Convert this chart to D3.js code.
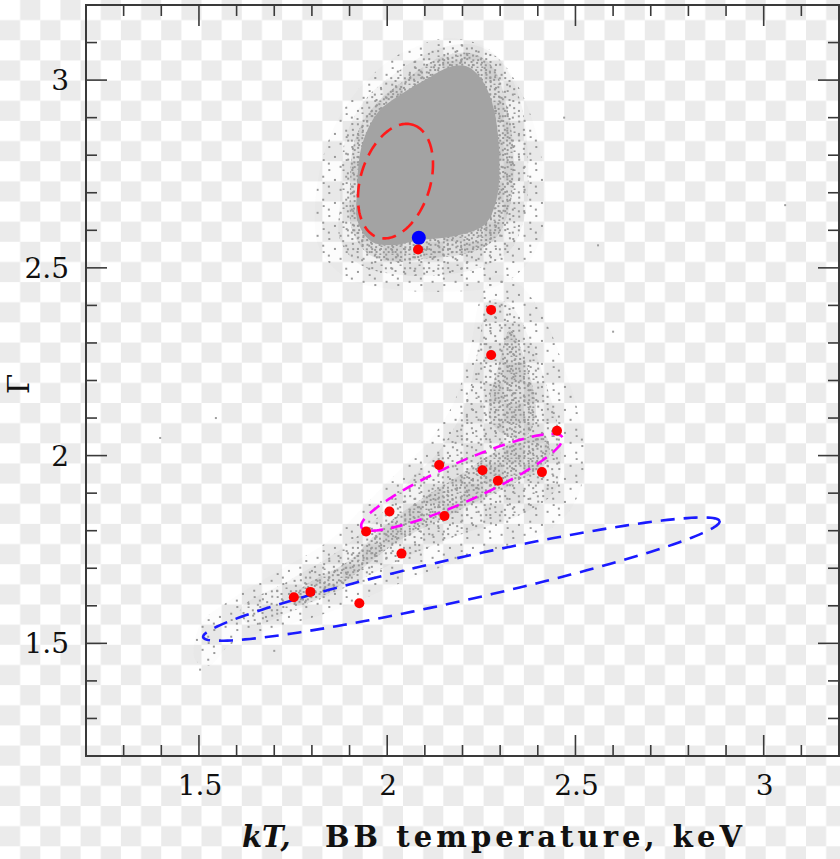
<!DOCTYPE html>
<html><head><meta charset="utf-8">
<script src="https://cdn.jsdelivr.net/npm/d3@7"></script>
<style>html,body{margin:0;padding:0;background:#fff}</style>
</head><body><svg id="c" width="840" height="859"></svg>
<script>
// ---------------- DATA ----------------
const axisDomain = [1.2, 3.2];
const majorTicks = [1.5, 2, 2.5, 3];
const majorTickLabels = ["1.5", "2", "2.5", "3"];
const minorTicks = [1.2,1.3,1.4,1.6,1.7,1.8,1.9,2.1,2.2,2.3,2.4,2.6,2.7,2.8,2.9,3.1,3.2];

// red observation points [kT, Gamma]
const redKT    = [2.082, 2.276, 2.276, 2.451, 2.138, 2.253, 2.294, 2.411, 2.006, 2.152, 1.944, 2.038, 1.752, 1.796, 1.926];
const redGamma = [2.549, 2.388, 2.268, 2.066, 1.975, 1.961, 1.933, 1.956, 1.851, 1.839, 1.798, 1.739, 1.623, 1.637, 1.607];
// blue point
const blueKT = [2.084];
const blueGamma = [2.580];

// confidence ellipses: centre kT, centre Gamma, semi-major, semi-minor, angle (deg)
const ellipseNames = ["red", "magenta", "blue"];
const ellipseCX    = [2.022, 2.1985, 2.197];
const ellipseCY    = [2.731, 1.929, 1.671];
const ellipseA     = [0.157, 0.2925, 0.703];
const ellipseB     = [0.0925, 0.052, 0.057];
const ellipseAng   = [73, 24.2, 12.7];

// gray Monte-Carlo cloud: density contour polygons, level 1 (sparse) .. 4 (solid)
const cloudUpperL1 = [[2.167,3.112],[2.273,3.080],[2.353,2.974],[2.406,2.814],[2.419,2.627],[2.379,2.521],[2.300,2.454],[2.140,2.436],[2.034,2.441],[1.901,2.468],[1.822,2.547],[1.808,2.654],[1.835,2.814],[1.901,2.947],[2.007,3.053],[2.087,3.093]];
const cloudUpperL2 = [[1.875,2.681],[1.888,2.840],[1.941,2.947],[2.034,3.027],[2.140,3.085],[2.233,3.093],[2.300,3.053],[2.353,2.947],[2.374,2.787],[2.366,2.641],[2.326,2.547],[2.246,2.500],[2.140,2.481],[2.034,2.481],[1.928,2.508],[1.875,2.574]];
const cloudUpperL3 = [[1.901,2.707],[1.914,2.840],[1.968,2.934],[2.061,3.010],[2.140,3.060],[2.220,3.072],[2.280,3.035],[2.320,2.920],[2.336,2.787],[2.323,2.654],[2.280,2.570],[2.193,2.534],[2.114,2.526],[2.034,2.516],[1.954,2.534],[1.907,2.601]];
const cloudUpperL4 = [[1.920,2.707],[1.933,2.827],[1.976,2.915],[2.034,2.960],[2.100,3.000],[2.167,3.035],[2.215,3.035],[2.255,2.995],[2.284,2.920],[2.298,2.787],[2.290,2.681],[2.258,2.614],[2.180,2.585],[2.087,2.574],[2.021,2.561],[1.960,2.569],[1.922,2.622]];
const cloudLowerL1 = [[1.490,1.456],[1.503,1.549],[1.582,1.615],[1.715,1.695],[1.848,1.775],[1.954,1.882],[2.034,1.962],[2.114,2.042],[2.180,2.148],[2.220,2.281],[2.246,2.414],[2.286,2.481],[2.353,2.454],[2.419,2.361],[2.472,2.228],[2.512,2.095],[2.525,1.962],[2.486,1.855],[2.406,1.789],[2.246,1.735],[2.087,1.682],[1.928,1.615],[1.822,1.575],[1.689,1.536],[1.582,1.496],[1.529,1.442]];
const cloudLowerL2 = [[1.609,1.589],[1.742,1.669],[1.875,1.749],[1.981,1.842],[2.061,1.935],[2.140,2.015],[2.207,2.135],[2.241,2.281],[2.273,2.414],[2.326,2.401],[2.379,2.308],[2.427,2.175],[2.459,2.042],[2.446,1.908],[2.353,1.842],[2.193,1.789],[2.034,1.722],[1.875,1.642],[1.742,1.583],[1.636,1.549]];
const cloudLowerL3 = [[1.768,1.642],[1.901,1.722],[1.981,1.802],[2.087,1.882],[2.193,1.948],[2.273,2.002],[2.353,2.042],[2.419,2.055],[2.427,1.988],[2.353,1.935],[2.246,1.882],[2.140,1.828],[2.034,1.775],[1.928,1.695],[1.822,1.621],[1.755,1.602]];
const cloudBranchL3 = [[2.273,2.095],[2.300,2.255],[2.326,2.334],[2.366,2.255],[2.393,2.095],[2.353,2.042]];
// isolated outlier samples
const outlierKT    = [1.397, 3.057, 1.503, 1.545, 2.600, 2.560, 1.700, 2.470];
const outlierGamma = [2.047, 2.667, 1.430, 2.100, 2.330, 2.560, 1.480, 2.900];

// ---------------- CHART ----------------
const W = 840, H = 859;
const svg = d3.select("#c");
const x = d3.scaleLinear().domain(axisDomain).range([86, 839]);
const y = d3.scaleLinear().domain(axisDomain).range([756, 5]);
const defs = svg.append("defs");

// checkerboard (transparent background look)
const S = 20.15;
const chk = defs.append("pattern").attr("id","chk").attr("patternUnits","userSpaceOnUse").attr("width",2*S).attr("height",2*S);
chk.append("rect").attr("width",2*S).attr("height",2*S).attr("fill","#ffffff");
chk.append("rect").attr("x",S).attr("y",0).attr("width",S).attr("height",S).attr("fill","#ebebeb");
chk.append("rect").attr("x",0).attr("y",S).attr("width",S).attr("height",S).attr("fill","#ebebeb");
svg.append("rect").attr("width",W).attr("height",H).attr("fill","url(#chk)");

// stipple textures for the cloud density levels
function stipple(id, n, T) {
  const p = defs.append("pattern").attr("id", id).attr("patternUnits","userSpaceOnUse").attr("width",T).attr("height",T);
  for (let k = 1; k <= n; k++) {
    p.append("rect")
      .attr("x", ((0.5 + k*0.7548776662) % 1) * T)
      .attr("y", ((0.5 + k*0.5698402910) % 1) * T)
      .attr("width", 2).attr("height", 2).attr("fill", "#999999");
  }
}
stipple("s1", 6, 23);
stipple("s2", 8, 19);
stipple("s3", 14, 17);

const poly = d3.line().x(d => x(d[0])).y(d => y(d[1])).curve(d3.curveCatmullRomClosed.alpha(0.5));
const levels = [
  {polys: [cloudUpperL1, cloudLowerL1], tex: "url(#s1)", op: 0.03},
  {polys: [cloudUpperL2, cloudLowerL2], tex: "url(#s2)", op: 0.09},
  {polys: [cloudUpperL3, cloudLowerL3, cloudBranchL3], tex: "url(#s3)", op: 0.22}
];
const cg = svg.append("g");
levels.forEach(L => {
  L.polys.forEach(p => {
    cg.append("path").attr("d", poly(p)).attr("fill", "#9a9a9a").attr("fill-opacity", L.op);
    cg.append("path").attr("d", poly(p)).attr("fill", L.tex);
  });
});
cg.append("path").attr("d", poly(cloudUpperL4)).attr("fill", "#a3a3a3");

svg.append("g").selectAll("rect").data(outlierKT).join("rect")
  .attr("x", d => x(d) - 1).attr("y", (d,i) => y(outlierGamma[i]) - 1)
  .attr("width", 2).attr("height", 2).attr("fill", "#9e9e9e");

// ellipses
const ellColors = {red: "#ff1a1a", magenta: "#ff00ff", blue: "#1a1aff"};
const ellDash = {red: "14,8", magenta: "12,8", blue: "14,9"};
const ts = d3.range(0, 361, 2).map(t => t * Math.PI / 180);
ellipseNames.forEach((name, i) => {
  const th = ellipseAng[i] * Math.PI / 180;
  const pts = ts.map(t => [
    ellipseCX[i] + ellipseA[i]*Math.cos(t)*Math.cos(th) - ellipseB[i]*Math.sin(t)*Math.sin(th),
    ellipseCY[i] + ellipseA[i]*Math.cos(t)*Math.sin(th) + ellipseB[i]*Math.sin(t)*Math.cos(th)
  ]);
  svg.append("path")
    .attr("d", d3.line().x(d => x(d[0])).y(d => y(d[1]))(pts))
    .attr("fill", "none").attr("stroke", ellColors[name])
    .attr("stroke-width", 2.6).attr("stroke-dasharray", ellDash[name]);
});

// points
svg.append("g").selectAll("circle").data(blueKT).join("circle")
  .attr("cx", d => x(d)).attr("cy", (d,i) => y(blueGamma[i])).attr("r", 7).attr("fill", "#0000ff");
svg.append("g").selectAll("circle").data(redKT).join("circle")
  .attr("cx", d => x(d)).attr("cy", (d,i) => y(redGamma[i])).attr("r", 5).attr("fill", "#ff0000");

// frame
const frame = "#3a3a3a";
svg.append("rect").attr("x", x(axisDomain[0])).attr("y", y(axisDomain[1]))
  .attr("width", x(axisDomain[1]) - x(axisDomain[0])).attr("height", y(axisDomain[0]) - y(axisDomain[1]))
  .attr("fill", "none").attr("stroke", frame).attr("stroke-width", 2);

// ticks on all four sides (inward)
const maj = 21, mnr = 11;
const tg = svg.append("g").attr("stroke", frame).attr("stroke-width", 1.6);
function ticks(vals, len) {
  vals.forEach(v => {
    tg.append("line").attr("x1", x(v)).attr("x2", x(v)).attr("y1", y(axisDomain[0])).attr("y2", y(axisDomain[0]) - len);
    tg.append("line").attr("x1", x(v)).attr("x2", x(v)).attr("y1", y(axisDomain[1])).attr("y2", y(axisDomain[1]) + len);
    tg.append("line").attr("y1", y(v)).attr("y2", y(v)).attr("x1", x(axisDomain[0])).attr("x2", x(axisDomain[0]) + len);
    tg.append("line").attr("y1", y(v)).attr("y2", y(v)).attr("x1", x(axisDomain[1])).attr("x2", x(axisDomain[1]) - len);
  });
}
ticks(majorTicks, maj);
ticks(minorTicks, mnr);

// tick labels
const fontSerif = "'DejaVu Serif', serif";
svg.append("g").selectAll("text").data(majorTicks).join("text")
  .attr("x", d => x(d) + 1).attr("y", 795).attr("text-anchor", "middle")
  .attr("font-family", fontSerif).attr("font-size", 28).attr("fill", "#111")
  .text((d,i) => majorTickLabels[i]);
svg.append("g").selectAll("text").data(majorTicks).join("text")
  .attr("x", 69).attr("y", d => y(d) + 10).attr("text-anchor", "end")
  .attr("font-family", fontSerif).attr("font-size", 28).attr("fill", "#111")
  .text((d,i) => majorTickLabels[i]);

// axis titles
svg.append("text").attr("x", 242).attr("y", 847)
  .attr("font-family", fontSerif).attr("font-size", 29).attr("font-weight", "bold").attr("font-style", "italic")
  .attr("fill", "#111").text("kT,");
svg.append("text").attr("x", 325).attr("y", 847)
  .attr("font-family", fontSerif).attr("font-size", 29).attr("font-weight", "bold")
  .attr("textLength", 417).attr("lengthAdjust", "spacing")
  .attr("fill", "#111").text("BB temperature, keV");
svg.append("text").attr("transform", "translate(29,384) rotate(-90)")
  .attr("text-anchor", "middle").attr("font-family", fontSerif).attr("font-size", 29)
  .attr("fill", "#111").text("Γ");
</script>
</body></html>
